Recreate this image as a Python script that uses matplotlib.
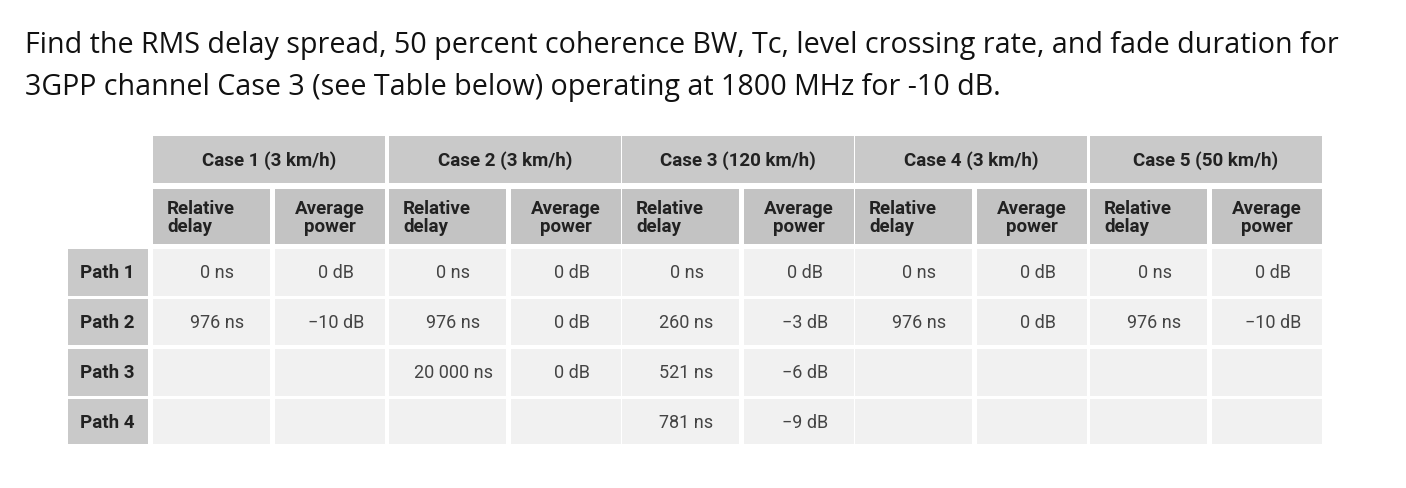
import matplotlib
matplotlib.use("Agg")
import matplotlib.pyplot as plt
from matplotlib.patches import Rectangle

title_lines = ["Find the RMS delay spread, 50 percent coherence BW, Tc, level crossing rate, and fade duration for",
               "3GPP channel Case 3 (see Table below) operating at 1800 MHz for -10 dB."]
cases = ["Case 1 (3 km/h)", "Case 2 (3 km/h)", "Case 3 (120 km/h)", "Case 4 (3 km/h)", "Case 5 (50 km/h)"]
sub_headers = ["Relative\ndelay", "Average\npower"]
paths = ["Path 1", "Path 2", "Path 3", "Path 4"]
delays = [["0 ns", "976 ns", "", ""],
          ["0 ns", "976 ns", "20 000 ns", ""],
          ["0 ns", "260 ns", "521 ns", "781 ns"],
          ["0 ns", "976 ns", "", ""],
          ["0 ns", "976 ns", "", ""]]
powers = [["0 dB", "\u221210 dB", "", ""],
          ["0 dB", "0 dB", "0 dB", ""],
          ["0 dB", "\u22123 dB", "\u22126 dB", "\u22129 dB"],
          ["0 dB", "0 dB", "", ""],
          ["0 dB", "\u221210 dB", "", ""]]

fig = plt.figure(figsize=(14.06, 4.89), dpi=100)
ax = fig.add_axes([0, 0, 1, 1])
ax.set_xlim(0, 1406); ax.set_ylim(489, 0); ax.axis("off")

for i, t in enumerate(title_lines):
    ax.text(25, 45 + 42 * i, t, fontsize=20.6, family="Open Sans", va="center", ha="left", color="#111111")

hdr_c = "#c9c9c9"; sub_c = "#c3c3c3"; cell_c = "#f1f1f1"; lab_c = "#c9c9c9"
tf = dict(family="Roboto", color="#222222")
case_x = [153, 389, 622, 855, 1090]
case_w = 232
rows_y = [(250, 297), (300, 346), (350, 397), (400, 445)]

for c, x0 in enumerate(case_x):
    ax.add_patch(Rectangle((x0, 137), case_w, 47, color=hdr_c, lw=0))
    ax.text(x0 + case_w / 2, 161, cases[c], ha="center", va="center", fontsize=13.5, fontweight="bold", **tf)
    halves = [(x0, 117), (x0 + 122, case_w - 122)]
    for s, (sx, sw) in enumerate(halves):
        ax.add_patch(Rectangle((sx, 190), sw, 55, color=sub_c, lw=0))
        ax.text(sx + 14 if s == 0 else sx + sw / 2, 218, sub_headers[s], ha="left" if s == 0 else "center",
                va="center", fontsize=13.5, fontweight="bold", linespacing=1.0, **tf)
        for r, (y0, y1) in enumerate(rows_y):
            ax.add_patch(Rectangle((sx, y0), sw, y1 - y0, color=cell_c, lw=0))
            val = delays[c][r] if s == 0 else powers[c][r]
            ax.text(sx + sw / 2 + 6, (y0 + y1) / 2, val, ha="center", va="center", fontsize=13, color="#444444", family="Roboto")

for r, (y0, y1) in enumerate(rows_y):
    ax.add_patch(Rectangle((68, y0), 80, y1 - y0, color=lab_c, lw=0))
    ax.text(80, (y0 + y1) / 2, paths[r], ha="left", va="center", fontsize=13.5, fontweight="bold", **tf)

fig.savefig("out.png", dpi=100)
